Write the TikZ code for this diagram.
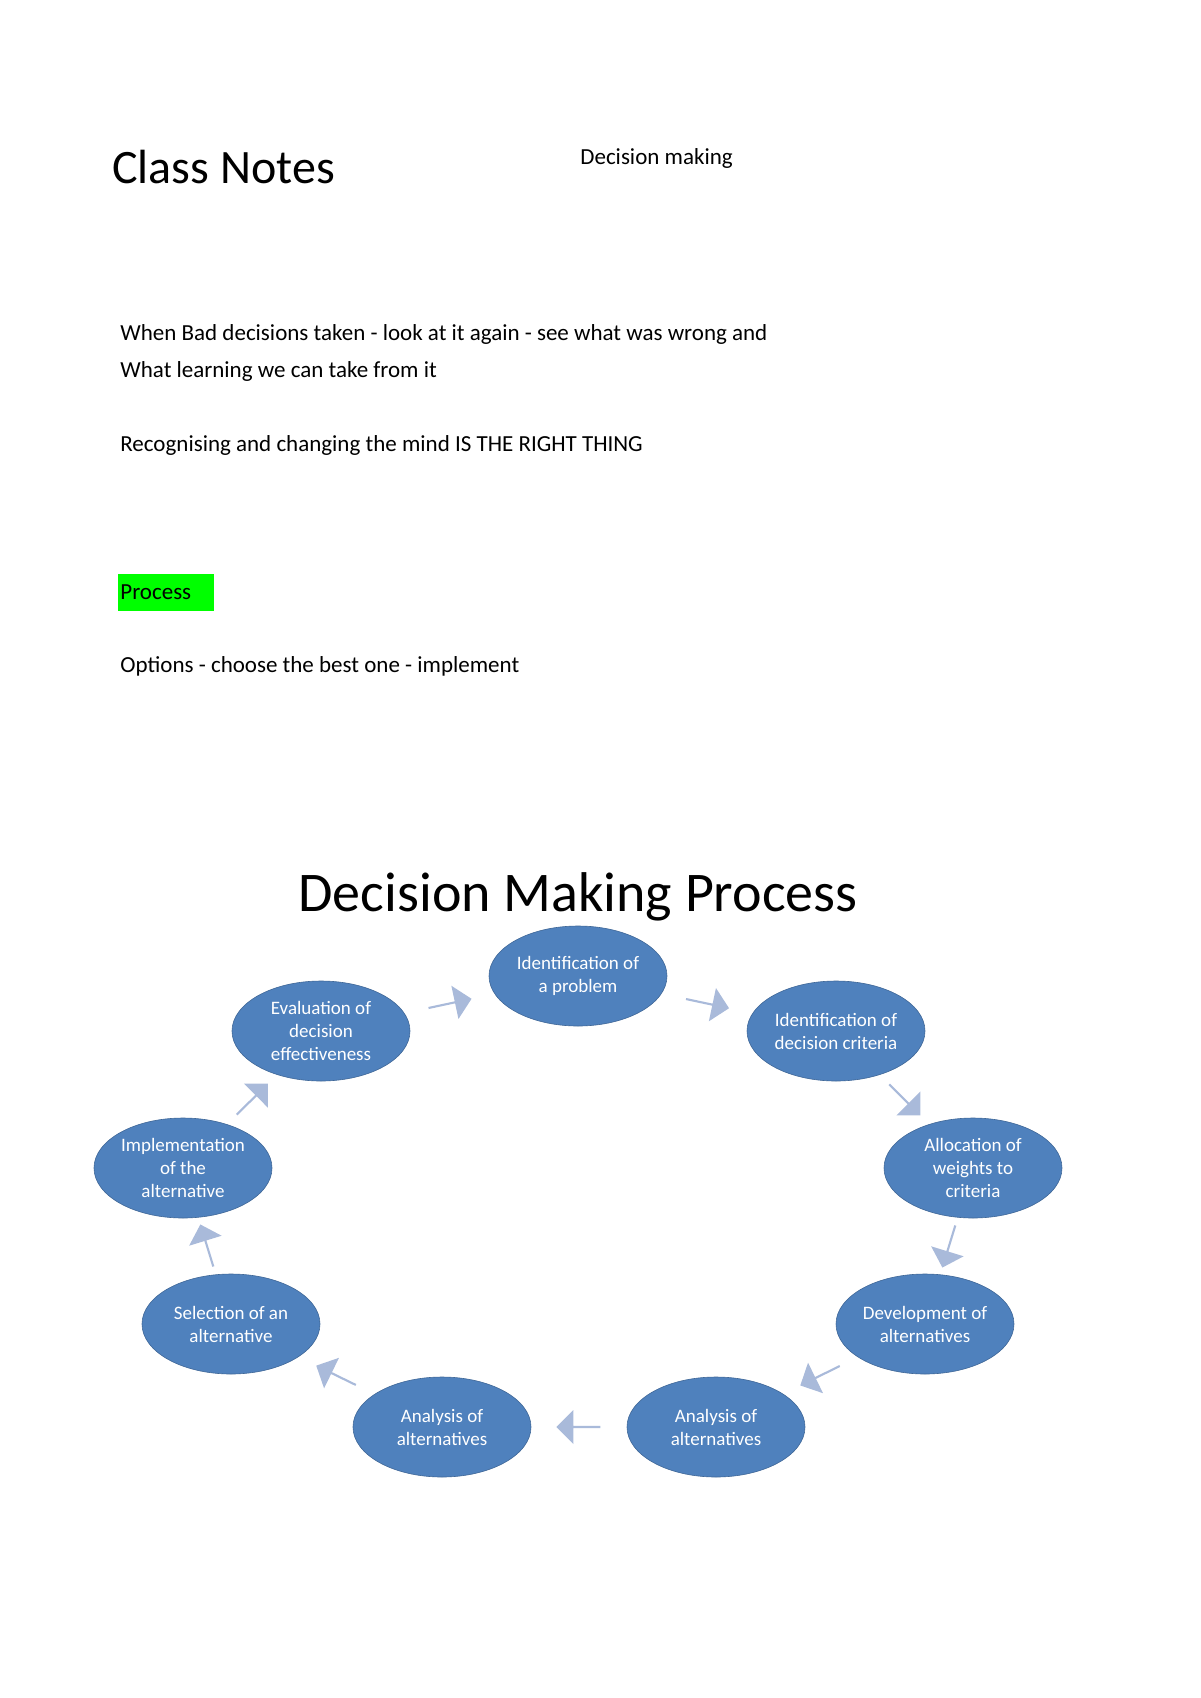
\documentclass[tikz,border=0pt]{standalone}
\usepackage{fontspec}
\setmainfont{Carlito}
\usetikzlibrary{shapes.arrows,shapes.geometric,calc}
\definecolor{ell}{HTML}{4F81BD}
\definecolor{arr}{HTML}{A9BADA}
\definecolor{hl}{HTML}{00FF00}
\begin{document}
\begin{tikzpicture}[x=0.5pt,y=-0.5pt,
  txt/.style={anchor=base west,inner sep=0pt,font=\fontsize{11.5}{14}\selectfont},
  stepnode/.style={ellipse,fill=ell,draw=ell!80!black,line width=0.3pt,minimum width=89pt,minimum height=50pt,inner sep=0pt,text=white,align=center,font=\fontsize{9.5}{11.5}\selectfont},
  blk/.style={single arrow,fill=arr,draw=none,minimum height=22pt,minimum width=17pt,single arrow head extend=3pt,inner sep=0pt}]
\useasboundingbox (0,0) rectangle (1200,1698);
\node[txt,font=\fontsize{24}{28}\selectfont] (cn) at (112,183) {Class Notes};
\node[txt] (dm) at (580,164) {Decision making};
\node[txt] (l1) at (120,340) {When Bad decisions taken - look at it again - see what was wrong and};
\node[txt] (l2) at (120,377) {What learning we can take from it};
\node[txt] (l3) at (120,451) {Recognising and changing the mind IS THE RIGHT THING};
\fill[hl] (118,574) rectangle (214,611);
\node[txt] (pr) at (120,599) {Process};
\node[txt] (op) at (120,672) {Options - choose the best one - implement};
\node[anchor=base,inner sep=0pt,font=\fontsize{28}{32}\selectfont] (title) at (578,911) {Decision Making Process};
\node[stepnode] (s1) at (578,976) {Identification of\\a problem};
\node[stepnode] (s2) at (836,1031) {Identification of\\decision criteria};
\node[stepnode] (s3) at (973,1168) {Allocation of\\weights to\\criteria};
\node[stepnode] (s4) at (925,1324) {Development of\\alternatives};
\node[stepnode] (s5) at (716,1427) {Analysis of\\alternatives};
\node[stepnode] (s6) at (442,1427) {Analysis of\\alternatives};
\node[stepnode] (s7) at (231,1324) {Selection of an\\alternative};
\node[stepnode] (s8) at (183,1168) {Implementation\\of the\\alternative};
\node[stepnode] (s9) at (321,1031) {Evaluation of\\decision\\effectiveness};
\foreach \a/\b in {s1/s2,s2/s3,s3/s4,s4/s5,s5/s6,s6/s7,s7/s8,s8/s9,s9/s1}{
  \path let \p1=($(\b)-(\a)$), \n1={atan2(\y1,\x1)} in
    node[blk,rotate=\n1] (a-\a) at ($(\a)!0.5!(\b)$) {};
}
\end{tikzpicture}
\end{document}
